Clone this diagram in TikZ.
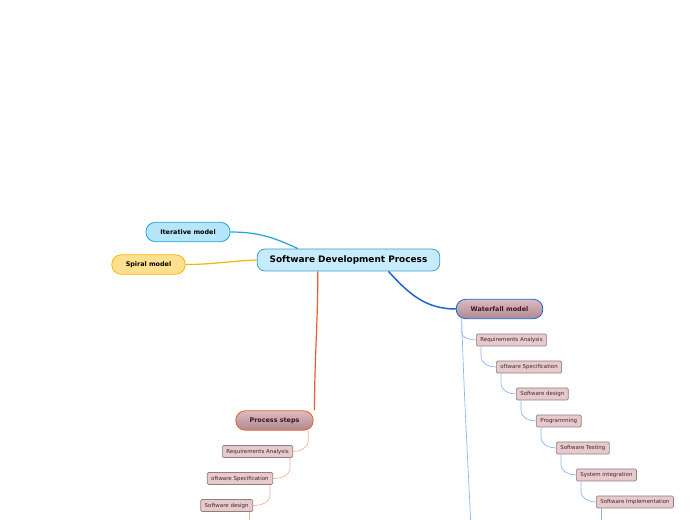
\documentclass[tikz,border=0pt]{standalone}
\usepackage{fontspec}
\setmainfont{DejaVu Sans}
\usetikzlibrary{shapes,arrows,positioning}

\definecolor{mainfill}{HTML}{C6ECFC}
\definecolor{mainedge}{HTML}{3D9AD1}
\definecolor{itfill}{HTML}{B5E6FB}
\definecolor{itedge}{HTML}{1FA3E0}
\definecolor{spfill}{HTML}{FFE08F}
\definecolor{spedge}{HTML}{F5B400}
\definecolor{modtop}{HTML}{DCBAC0}
\definecolor{modbot}{HTML}{AE8A90}
\definecolor{modtext}{HTML}{4A1224}
\definecolor{wfedge}{HTML}{1A62CF}
\definecolor{psedge}{HTML}{EE5A2A}
\definecolor{stepfill}{HTML}{E8C9CC}
\definecolor{stepedge}{HTML}{8F7F80}
\definecolor{steptext}{HTML}{3A2A2C}
\definecolor{wfthin}{HTML}{8AB4EF}
\definecolor{psthin}{HTML}{F5B0A0}

\begin{document}
\begin{tikzpicture}[
    x=0.75pt, y=-0.75pt,
    topic/.style={rectangle, rounded corners=6pt, draw=mainedge, fill=mainfill, line width=0.6pt,
        minimum width=137pt, minimum height=16.5pt, font=\fontsize{6.7}{7}\selectfont\bfseries},
    model/.style={rectangle, rounded corners=7pt, line width=0.6pt, minimum height=14.5pt,
        font=\fontsize{4.8}{5.5}\selectfont\bfseries},
    stepbox/.style={rectangle, rounded corners=1pt, draw=stepedge, fill=stepfill, line width=0.5pt,
        minimum height=9pt, inner xsep=3pt, inner ysep=0pt, text=steptext,
        font=\fontsize{4.1}{4.5}\selectfont},
    wfline/.style={wfthin, line width=0.5pt},
    psline/.style={psthin, line width=0.5pt}
]
\useasboundingbox (0,0) rectangle (697,520);
\clip (0,0) rectangle (697,520);

% Central topic
\node[topic] (sdp) at (348.5,260) {Software Development Process};

% Models
\node[model, draw=itedge, fill=itfill, minimum width=63pt] (iter) at (188,232) {Iterative model};
\node[model, draw=spedge, fill=spfill, minimum width=55pt] (spiral) at (148.5,264.5) {Spiral model};
\node[model, draw=wfedge, top color=modtop, bottom color=modbot, text=modtext, minimum width=65pt] (water) at (499.5,309) {Waterfall model};
\node[model, draw=psedge, top color=modtop, bottom color=modbot, text=modtext, minimum width=58pt] (proc) at (274.5,420.5) {Process steps};

% Waterfall steps
\node[stepbox, anchor=west] (wreq) at (476,340) {Requirements Analysis};
\node[stepbox, anchor=west] (wspec) at (496,367) {oftware Specification};
\node[stepbox, anchor=west] (wdes) at (516,394) {Software design};
\node[stepbox, anchor=west] (wprog) at (536,421) {Programming};
\node[stepbox, anchor=west] (wtest) at (556,448) {Software Testing};
\node[stepbox, anchor=west] (wint) at (576,475) {System integration};
\node[stepbox, anchor=west] (wimpl) at (596,502) {Software Implementation};
\coordinate (wnext) at (601,530);
\coordinate (wfar) at (471,530);

% Process steps
\node[stepbox, anchor=east] (preq) at (293,451.5) {Requirements Analysis};
\node[stepbox, anchor=east] (pspec) at (273,478.5) {oftware Specification};
\node[stepbox, anchor=east] (pdes) at (253,505.5) {Software design};
\coordinate (pnext) at (249,530);

% Main branches
\draw[itedge, line width=0.9pt] (iter.east) to[out=0,in=155] ([xshift=-38pt]sdp.north);
\draw[spedge, line width=0.9pt] (spiral.east) to[out=0,in=182] (sdp.west);
\draw[psedge, line width=0.9pt] ([xshift=-23pt]sdp.south) to[out=-90,in=90] ([xshift=30pt]proc.north);
\draw[wfedge, line width=1.1pt] ([xshift=30pt]sdp.south) to[out=-48,in=180] (water.west);

% Waterfall connectors
\draw[wfline] ([xshift=4pt]water.south west) -- ++(0,12) to[out=-90,in=180] (wreq.west);
\draw[wfline] ([xshift=3.75pt]wreq.south west) -- ++(0,10) to[out=-90,in=180] (wspec.west);
\draw[wfline] ([xshift=3.75pt]wspec.south west) -- ++(0,10) to[out=-90,in=180] (wdes.west);
\draw[wfline] ([xshift=3.75pt]wdes.south west) -- ++(0,10) to[out=-90,in=180] (wprog.west);
\draw[wfline] ([xshift=3.75pt]wprog.south west) -- ++(0,10) to[out=-90,in=180] (wtest.west);
\draw[wfline] ([xshift=3.75pt]wtest.south west) -- ++(0,10) to[out=-90,in=180] (wint.west);
\draw[wfline] ([xshift=3.75pt]wint.south west) -- ++(0,10) to[out=-90,in=180] (wimpl.west);
\draw[wfline] ([xshift=3.75pt]wimpl.south west) -- (wnext);
\draw[wfline] ([xshift=4.5pt]water.south west) .. controls (464,400) and (468,460) .. (wfar);

% Process connectors
\draw[psline] ([xshift=-4pt]proc.south east) -- ++(0,10) to[out=-90,in=0] (preq.east);
\draw[psline] ([xshift=-2.25pt]preq.south east) -- ++(0,10) to[out=-90,in=0] (pspec.east);
\draw[psline] ([xshift=-2.25pt]pspec.south east) -- ++(0,10) to[out=-90,in=0] (pdes.east);
\draw[psline] ([xshift=-3pt]pdes.south east) -- (pnext);

\end{tikzpicture}
\end{document}
